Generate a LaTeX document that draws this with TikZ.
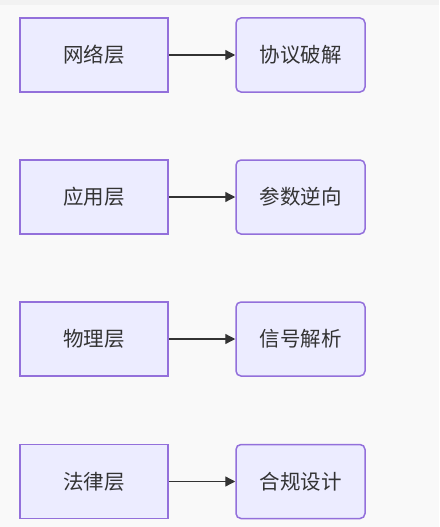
\documentclass[tikz,border=0pt]{standalone}
\usepackage{fontspec}
\setmainfont{Noto Sans CJK SC}
\usetikzlibrary{arrows.meta}
\definecolor{bgc}{HTML}{F9F9F9}
\definecolor{bandc}{HTML}{F2F2F2}
\definecolor{nfill}{HTML}{ECECFF}
\definecolor{nstroke}{HTML}{9370DB}
\definecolor{tcol}{HTML}{333333}
\tikzset{
  sq/.style={draw=nstroke, fill=nfill, line width=1.5pt, minimum width=148pt, minimum height=74pt, inner sep=0pt, text=tcol, font=\fontsize{20.5}{24}\selectfont},
  rd/.style={sq, rounded corners=5pt, minimum width=129pt},
  conn/.style={draw=tcol, line width=1.3pt, -{Triangle[length=10pt,width=10pt]}}
}
\begin{document}
\begin{tikzpicture}[x=1pt,y=-1pt]
\fill[bgc] (0,0) rectangle (439,527);
\fill[bandc] (0,0) rectangle (439,5);
\useasboundingbox (0,0) rectangle (439,527);
\node[sq] (a1) at (94,55) {网络层};
\node[rd] (b1) at (300.5,55) {协议破解};
\node[sq] (a2) at (94,197) {应用层};
\node[rd] (b2) at (300.5,197) {参数逆向};
\node[sq] (a3) at (94,339) {物理层};
\node[rd] (b3) at (300.5,339) {信号解析};
\node[sq] (a4) at (94,481.5) {法律层};
\node[rd] (b4) at (300.5,481.5) {合规设计};
\draw[conn] (a1) -- (b1);
\draw[conn] (a2) -- (b2);
\draw[conn] (a3) -- (b3);
\draw[conn] (a4) -- (b4);
\end{tikzpicture}
\end{document}
